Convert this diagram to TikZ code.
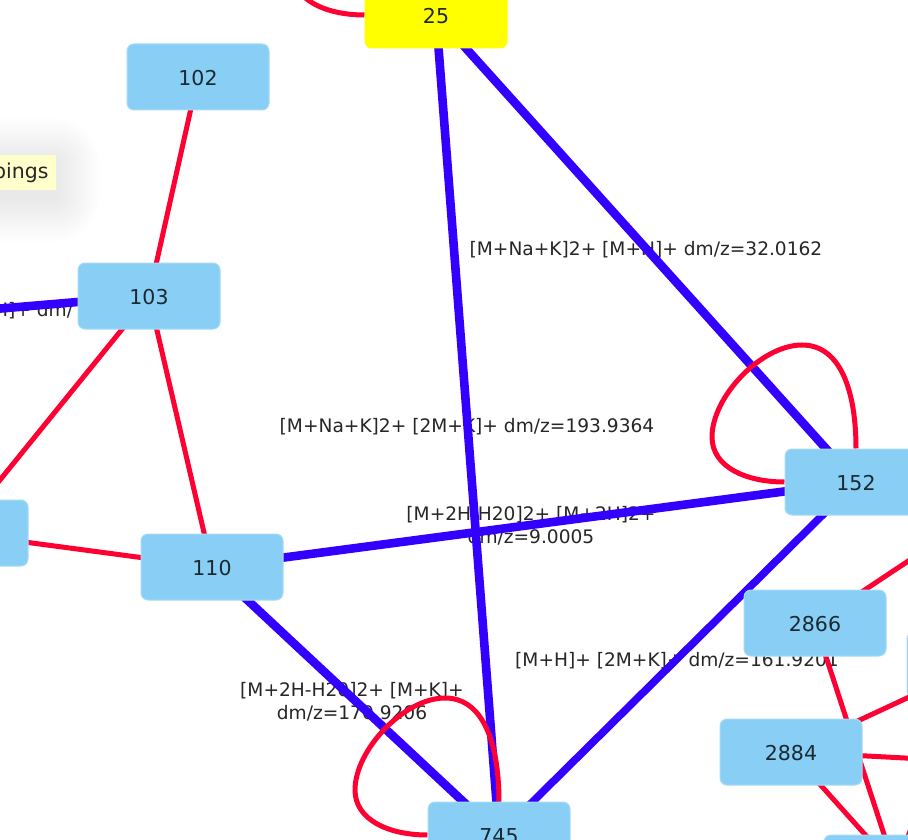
\documentclass[tikz,border=0pt]{standalone}
\usepackage{fontspec}
\setmainfont{DejaVu Sans}
\definecolor{nodeblue}{HTML}{89CFF5}
\definecolor{nodeedge}{HTML}{A6DBF7}
\definecolor{edgeblue}{HTML}{3300FF}
\definecolor{edgered}{HTML}{FF0033}
\definecolor{tipyellow}{HTML}{FFFFCC}
\definecolor{keyyellow}{RGB}{255,255,0}
\definecolor{labelink}{HTML}{262626}
\pgfdeclarelayer{labels}
\pgfdeclarelayer{edges}
\pgfsetlayers{labels,edges,main}
\tikzset{
  x=1pt,y=-1pt,
  netnode/.style={draw=nodeedge,line width=1pt,fill=nodeblue,rounded corners=7pt,minimum width=142pt,minimum height=66pt,inner sep=0pt,text height=17pt,text depth=0pt,font=\fontsize{20.5}{22}\selectfont,text=black!80!nodeblue},
  keynode/.style={netnode,fill=keyyellow,draw=keyyellow},
  blueedge/.style={draw=edgeblue,line width=8.6pt},
  rededge/.style={draw=edgered,line width=5pt},
  edgelabel/.style={font=\fontsize{18.6}{23}\selectfont,text=labelink,align=center,inner sep=0pt},
}
\newcommand{\selfloop}[1]{%
  \draw[rededge] (#1.west) .. controls ([shift={(-110,0)}]#1.center) and ([shift={(-144,-15)}]#1.center) .. ([shift={(-144,-45)}]#1.center)
    .. controls ([shift={(-144,-85)}]#1.center) and ([shift={(-95,-137)}]#1.center) .. ([shift={(-54,-137)}]#1.center)
    .. controls ([shift={(-15,-137)}]#1.center) and ([shift={(0,-90)}]#1.center) .. (#1.north);}
\begin{document}
\begin{tikzpicture}
\useasboundingbox (0,0) rectangle (908,840);
% nodes
\node[netnode] (n102) at (198,77) {102};
\node[netnode] (n103) at (149,296) {103};
\node[netnode] (n110) at (212,567) {110};
\node[keynode] (n25) at (436,15) {25};
\node[netnode] (n152) at (856,482) {152};
\node[netnode] (n745) at (499,835) {745};
\node[netnode] (n2866) at (815,623) {2866};
\node[netnode] (n2884) at (791,752) {2884};
\node[netnode] (nleft) at (-43,533) {};
\node[netnode] (nright) at (978,665) {};
\node[netnode] (nbottom) at (895,868) {};
\coordinate (farA) at (-100,317);
\coordinate (farB) at (1000,500);
\coordinate (farC) at (1000,763);
% tooltip
\node[draw=black!8,fill=tipyellow,line width=0.8pt,anchor=east,minimum height=36pt,inner sep=0pt,text width=97pt,align=right,font=\fontsize{20.5}{22}\selectfont,text=black!85] (tip) at (57,172.5) {\raisebox{-1.5pt}{pings}\hspace*{8pt}};
% labels and tooltip shadow lie under the edges
\begin{pgfonlayer}{labels}
\fill[white] (0,0) rectangle (908,840);
\foreach \g in {44,42,...,2}{
  \fill[black,opacity=0.004,rounded corners=\g pt] (-40-\g,154-\g+8) rectangle (56+\g,190+\g+8);
}
\node[edgelabel] (l1) at (646,250) {[M+Na+K]2+ [M+H]+ dm/z=32.0162};
\node[edgelabel] (l2) at (467,427) {[M+Na+K]2+ [2M+K]+ dm/z=193.9364};
\node[edgelabel] (l3) at (531,526) {[M+2H-H20]2+ [M+2H]2+\\dm/z=9.0005};
\node[edgelabel] (l4) at (677,661) {[M+H]+ [2M+K]+ dm/z=161.9201};
\node[edgelabel] (l5) at (352,702) {[M+2H-H20]2+ [M+K]+\\dm/z=170.9206};
\node[edgelabel,anchor=west] (l6) at (-6,311) {H]+ dm/};
\end{pgfonlayer}
% edges
\begin{pgfonlayer}{edges}
\draw[rededge] (n102.center) -- (n103.center);
\draw[rededge] (n103.center) -- (nleft.center);
\draw[rededge] (n103.center) -- (n110.center);
\draw[rededge] (nleft.center) -- (n110.center);
\draw[rededge] (n2866.center) -- (nbottom.center);
\draw[rededge] (n2866.center) -- (farB);
\draw[rededge] (n2884.center) -- (nbottom.center);
\draw[rededge] (n2884.center) -- (nright.center);
\draw[rededge] (n2884.center) -- (farC);
\draw[rededge] (nbottom.center) -- (nright.center);
\draw[blueedge] (n103.center) -- (farA);
\draw[blueedge] (n25.center) -- (n745.center);
\draw[blueedge] (n25.center) -- (n152.center);
\draw[blueedge] (n110.center) -- (n152.center);
\draw[blueedge] (n110.center) -- (n745.center);
\draw[blueedge,line width=7.6pt] (n152.center) -- (n745.center);
\selfloop{n25}
\selfloop{n152}
\selfloop{n745}
\end{pgfonlayer}
\end{tikzpicture}
\end{document}
